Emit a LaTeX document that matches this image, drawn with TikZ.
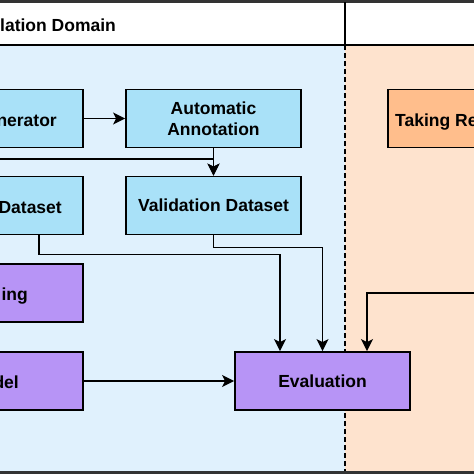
\documentclass[tikz,border=0pt]{standalone}
\usepackage{fontspec}
\setmainfont{Liberation Sans}
\usepackage{tikz}
\usetikzlibrary{arrows.meta}
\definecolor{simBack}{HTML}{E0F1FD}
\definecolor{realBack}{HTML}{FEE3CE}
\definecolor{boxBlue}{HTML}{A9E1F8}
\definecolor{boxPurple}{HTML}{B794F6}
\definecolor{boxOrange}{HTML}{FFBE8C}
\definecolor{frameGray}{HTML}{333333}

\begin{document}
\begin{tikzpicture}
[x=1pt,y=-1pt,%
    boxDecorate/.style={shape=rectangle,draw=black,line width=1.8pt,minimum width=175pt,minimum height=58pt,align=center,inner sep=0pt,font=\fontsize{17.5}{21}\selectfont\bfseries},%
    boxBlueDecorate/.style={boxDecorate,fill=boxBlue},%
    boxPurpleDecorate/.style={boxDecorate,fill=boxPurple},%
    boxOrangeDecorate/.style={boxDecorate,fill=boxOrange},%
    textDecorate/.style={inner sep=0pt,font=\fontsize{17.5}{21}\selectfont\bfseries},%
    lineDecorate/.style={black,line width=1.8pt,-{Stealth[length=12pt,width=12pt,inset=3pt]}}]
    \useasboundingbox (0,0) rectangle (474,474);
    \clip (0,0) rectangle (474,474);
    %% lanes
    \fill[simBack] (-10,45) rectangle (345,472);
    \fill[realBack] (345,45) rectangle (484,472);
    \fill[white] (-10,2) rectangle (484,45);
    \draw[frameGray,line width=2.5pt] (-10,1.3) -- (484,1.3);
    \draw[black,line width=1.5pt] (-10,45) -- (484,45);
    \draw[black,line width=1.5pt] (345,2) -- (345,45);
    \draw[black,line width=1.4pt,dash pattern=on 5pt off 3pt] (345,45) -- (345,472);
    \draw[frameGray,line width=2.5pt] (-10,472.7) -- (484,472.7);
    \node (simTitle) at (0,31.5) [textDecorate,anchor=base west] {lation Domain};
    %% blue boxes
    \foreach \nodename/\x/\y/\nodetext in {gen/-4.5/118.5/{}, anno/213.5/118.5/{Automatic\\Annotation}, trainSet/-4.5/205.5/{}, valSet/213.5/205.5/{Validation Dataset}}
    {
        \node (\nodename) at (\x,\y) [boxBlueDecorate] {\nodetext};
    }
    %% purple boxes
    \foreach \nodename/\x/\y/\nodetext in {training/-4.5/293/{}, model/-4.5/381/{}, eval/322.5/381/{Evaluation}}
    {
        \node (\nodename) at (\x,\y) [boxPurpleDecorate] {\nodetext};
    }
    %% orange box
    \node (taking) at (475.5,118.5) [boxOrangeDecorate] {};
    %% texts of the boxes cut by the border
    \foreach \nodename/\x/\y/\nodetext in {genText/57/126/nerator, trainSetText/62/213/Dataset, trainingText/28/300.5/ing, modelText/19/388/del}
    {
        \node (\nodename) at (\x,\y) [textDecorate,anchor=base east] {\nodetext};
    }
    \node (takingText) at (395,126) [textDecorate,anchor=base west] {Taking Re};
    %% edges or lines
    \coordinate (leftIn) at (-10,159);
    \coordinate (rightIn) at (484,293);
    \draw[lineDecorate] (gen) -- (anno);
    \draw[lineDecorate] (anno) -- (valSet);
    \draw[lineDecorate] (leftIn) -| (valSet.north);
    \draw[lineDecorate] ([xshift=43.5pt]trainSet.south) -- ++(0,19) -| ([xshift=-42.5pt]eval.north);
    \draw[lineDecorate] (valSet.south) -- ++(0,12) -| (eval.north);
    \draw[lineDecorate] (rightIn) -| ([xshift=44.5pt]eval.north);
    \draw[lineDecorate] (model) -- (eval);
\end{tikzpicture}
\end{document}
